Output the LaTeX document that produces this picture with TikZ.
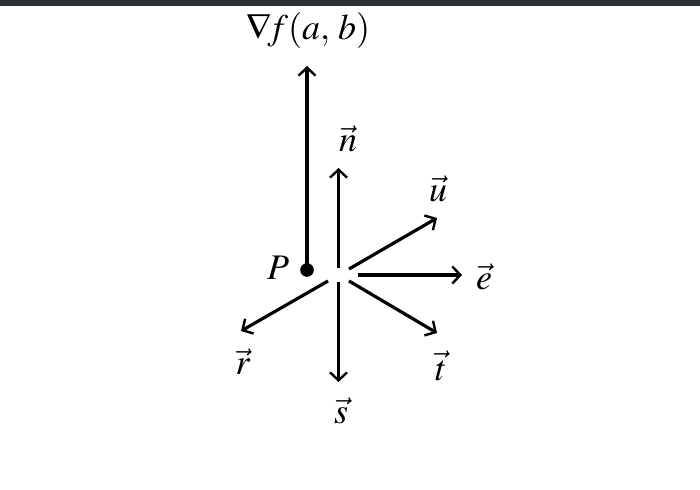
\documentclass[tikz,border=0pt]{standalone}
\usepackage{mathptmx}
\usetikzlibrary{arrows.meta,calc}
\definecolor{barcol}{RGB}{46,49,53}
\tikzset{
  vecline/.style={line width=3.2pt, -{Straight Barb[length=8pt,width=17pt,line width=2.4pt]}},
  lab/.style={font=\fontsize{36}{42}\selectfont, inner sep=0pt},
}
\begin{document}
\begin{tikzpicture}[x=1pt,y=-1pt]
\useasboundingbox (0,0) rectangle (700,489);
\fill[barcol] (0,0) rectangle (700,6);
% points
\coordinate (O) at (338.5,275);
\coordinate (Pd) at (307,270);
\coordinate (gtip) at (307,66);
\coordinate (ns) at (338.5,268);
\coordinate (ntip) at (338.5,168);
\coordinate (ss) at (338.5,282);
\coordinate (stip) at (338.5,382);
\coordinate (es) at (358,275);
\coordinate (etip) at (462,275);
\coordinate (us) at (349,269);
\coordinate (utip) at (437,218);
\coordinate (ts) at (349,281);
\coordinate (ttip) at (437,333);
\coordinate (rs) at (328,281);
\coordinate (rtip) at (241,331);
% labels
\node[lab] (grad) at (308,31) {$\nabla\! f(a,\,b)$};
\node[lab] (nl) at (348,139) {$\vec{n}$};
\node[lab] (ul) at (438,189) {$\vec{u}$};
\node[lab] (el) at (484,277) {$\vec{e}$};
\node[lab] (Pl) at (278,268) {$P$};
\node[lab] (rl) at (243,362) {$\vec{r}$};
\node[lab] (sl) at (341,411) {$\vec{s}$};
\node[lab] (tl) at (441,366) {$\vec{t}$};
% arrows
\fill (Pd) circle (6.8);
\draw[vecline] (Pd) -- (gtip);
\draw[vecline] (ns) -- (ntip);
\draw[vecline] (ss) -- (stip);
\draw[vecline] (es) -- (etip);
\draw[vecline] (us) -- (utip);
\draw[vecline] (ts) -- (ttip);
\draw[vecline] (rs) -- (rtip);
\end{tikzpicture}
\end{document}
